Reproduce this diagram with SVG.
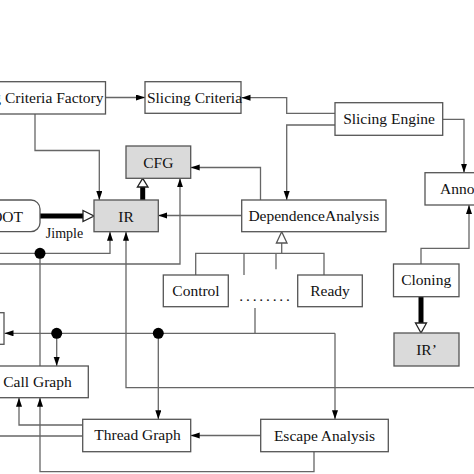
<svg xmlns="http://www.w3.org/2000/svg" width="474" height="474" viewBox="0 0 474 474">
<style>
.box{fill:#fff;stroke:#555;stroke-width:1.3}
.gray{fill:#dadada;stroke:#555;stroke-width:1.3}
.t{font-family:"Liberation Serif","Times New Roman",serif;font-size:15.5px;fill:#111;text-anchor:middle}
.c{fill:none;stroke:#666;stroke-width:1.3}
.a{fill:none;stroke:#666;stroke-width:1.3;marker-end:url(#ah)}
.thick{stroke:#000;stroke-width:5;fill:none}
.hollow{fill:#fff;stroke:#222;stroke-width:1.3}
.dot{fill:#000}
</style>
<defs>
<marker id="ah" markerUnits="userSpaceOnUse" markerWidth="10" markerHeight="8" refX="9" refY="3" orient="auto">
<path d="M0,0 L9,3 L0,6 z" fill="#000"/>
</marker>
</defs>
<rect width="474" height="474" fill="#fff"/>
<g id="connectors">
<polyline class="a" points="105.5,97.5 145,97.5"/>
<polyline class="a" points="335,113.3 286.7,113.3 286.7,97.7 241.5,97.7"/>
<polyline class="a" points="335,125 286.7,125 286.7,200"/>
<polyline class="a" points="442.7,119.3 464,119.3 464,172.7"/>
<polyline class="a" points="421,264 421,248.3 469,248.3 469,205"/>
<polyline class="a" points="35,114 35,150.5 99.3,150.5 99.3,200"/>
<polyline class="a" points="241.7,215.5 158.3,215.5"/>
<polyline class="a" points="260.5,200 260.5,167.5 190.7,167.5"/>
<polyline class="a" points="0,253.3 110,253.3 110,231.7"/>
<polyline class="a" points="0,264 180,264 180,178.3"/>
<polyline class="a" points="474,387.7 126,387.7 126,231.7"/>
<polyline class="c" points="281.7,243 281.7,253.3"/>
<polyline class="c" points="195.7,275 195.7,253.3 324,253.3 324,275"/>
<polyline class="c" points="244,253.3 244,275"/>
<polyline class="c" points="276,253.3 276,269.3"/>
<polyline class="c" points="255,308 255,333.3"/>
<polyline class="a" points="335,333.3 4.5,333.3"/>
<polyline class="a" points="335,333.3 335,419.3"/>
<polyline class="a" points="158.3,333.3 158.3,419.3"/>
<polyline class="a" points="56.7,333.3 56.7,366"/>
<polyline class="c" points="40,253.3 40,366"/>
<polyline class="a" points="82.7,425 19,425 19,397.7"/>
<polyline class="a" points="314,451.7 314,471.7 40,471.7 40,397.7"/>
<polyline class="c" points="0,436 82.7,436"/>
<polyline class="a" points="260.7,435.5 190.7,435.5"/>
<line class="thick" x1="40" y1="216" x2="83" y2="216"/>
<polygon class="hollow" points="83,210.5 94,216 83,221.5"/>
<line class="thick" x1="142.7" y1="200" x2="142.7" y2="187"/>
<polygon class="hollow" points="137.4,187 142.7,178.3 148,187"/>
<line class="thick" x1="421" y1="296.7" x2="421" y2="323"/>
<polygon class="hollow" points="415.5,323 421,333 426.5,323"/>
<polygon class="hollow" style="stroke:#555" points="276.4,243 281.7,231.7 287,243"/>
<circle class="dot" cx="40" cy="253.3" r="5.5"/>
<circle class="dot" cx="56.7" cy="333.3" r="5.5"/>
<circle class="dot" cx="158.3" cy="333.3" r="5.5"/>
<text x="64.5" y="237.5" class="t" style="font-size:14px">Jimple</text>
</g>
<g id="factory"><rect class="box" x="-45" y="81.7" width="150.5" height="32.3"/><text class="t" x="103.5" y="102.5" style="text-anchor:end">Slicing Criteria Factory</text></g>
<g id="criteria"><rect class="box" x="145" y="81.7" width="96" height="31.6"/><text class="t" x="194.5" y="102.5">Slicing Criteria</text></g>
<g id="engine"><rect class="box" x="335" y="102.7" width="107.7" height="32.6"/><text class="t" x="389" y="123.5">Slicing Engine</text></g>
<g id="annotation"><rect class="box" x="425" y="172.7" width="80" height="32.3"/><text class="t" x="440" y="193.5" style="text-anchor:start">Annotation</text></g>
<g id="cfg"><rect class="gray" x="126" y="146" width="64.7" height="32.3"/><text class="t" x="158.3" y="167.5">CFG</text></g>
<g id="ir"><rect class="gray" x="94" y="200" width="64.3" height="31.7"/><text class="t" x="126" y="221.5">IR</text></g>
<g id="soot"><rect class="box" x="-30" y="200" width="70" height="31.7" rx="9"/><text class="t" x="23" y="221.5" style="text-anchor:end">SOOT</text></g>
<g id="dependence"><rect class="box" x="241.7" y="200" width="144.3" height="31.7"/><text class="t" x="313.8" y="221">DependenceAnalysis</text></g>
<g id="control"><rect class="box" x="163.3" y="275" width="65" height="31.7"/><text class="t" x="196" y="296">Control</text></g>
<g id="ready"><rect class="box" x="297.7" y="275" width="64.6" height="31.7"/><text class="t" x="330" y="296">Ready</text></g>
<g id="dots"><text class="t" x="266" y="301" style="letter-spacing:2.8px">........</text></g>
<g id="cloning"><rect class="box" x="393.5" y="264" width="65.5" height="32.7"/><text class="t" x="426.2" y="285">Cloning</text></g>
<g id="irprime"><rect class="gray" x="394" y="333" width="65" height="33"/><text class="t" x="426.5" y="354.5">IR’</text></g>
<g id="leftbox"><rect class="box" x="-40" y="312.7" width="44" height="31.6"/></g>
<g id="callgraph"><rect class="box" x="-13" y="366" width="101.3" height="31.7"/><text class="t" x="37.5" y="387">Call Graph</text></g>
<g id="threadgraph"><rect class="box" x="82.7" y="419.3" width="108" height="32.4"/><text class="t" x="137.5" y="440">Thread Graph</text></g>
<g id="escape"><rect class="box" x="260.7" y="419.3" width="127.6" height="32.4"/><text class="t" x="324.5" y="440.5">Escape Analysis</text></g>
</svg>
